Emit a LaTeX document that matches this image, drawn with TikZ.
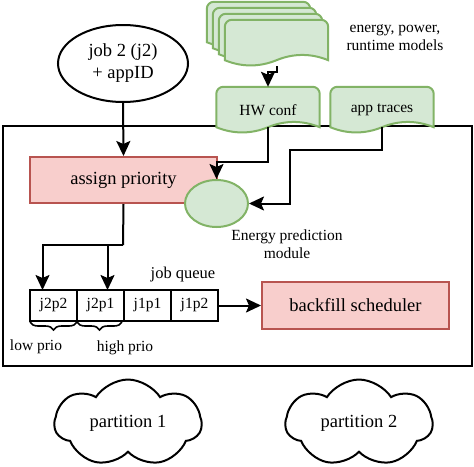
\documentclass[tikz,border=0pt]{standalone}
\usepackage{fontspec}
\setmainfont{Liberation Serif}
\usetikzlibrary{positioning,arrows.meta,shapes.geometric,shapes.symbols,decorations.pathreplacing}

\definecolor{redfill}{HTML}{F8CECC}
\definecolor{redline}{HTML}{B85450}
\definecolor{greenfill}{HTML}{D5E8D4}
\definecolor{greenline}{HTML}{82B366}

\tikzset{
  bigtext/.style={font=\fontsize{18.5}{22}\selectfont},
  smalltext/.style={font=\fontsize{15.5}{18}\selectfont},
  arr/.style={line width=2pt, arrows={-Stealth[length=15pt,width=14pt,inset=3pt]}},
  redbox/.style={draw=redline, fill=redfill, line width=2pt, minimum width=187pt, bigtext},
  doc/.style={minimum width=103pt, minimum height=40pt, inner sep=0pt, smalltext},
  docline/.style={draw=greenline, fill=greenfill, line width=2pt},
  cell/.style={draw, line width=2pt, minimum width=47pt, minimum height=31pt, inner sep=0pt, outer sep=0pt, smalltext},
  partition/.style={draw, cloud, cloud puffs=7, cloud puff arc=115, aspect=1.8, minimum width=147pt, minimum height=80pt, line width=2pt, bigtext},
  prio/.style={decorate, decoration={brace, mirror, amplitude=8pt}, line width=1.6pt}
}

\newcommand\docshape[1]{%
  \path[docline] (#1.south west) [rounded corners=7pt] -- (#1.north west) -- (#1.north east) [sharp corners]
    -- (#1.south east) .. controls ([xshift=-17pt,yshift=7pt]#1.south east) and ([xshift=17pt,yshift=7pt]#1.south) .. (#1.south)
    .. controls ([xshift=-17pt,yshift=-7pt]#1.south) and ([xshift=17pt,yshift=-7pt]#1.south west) .. (#1.south west) -- cycle;}

\begin{document}
\begin{tikzpicture}[x=1pt, y=-1pt]
  \useasboundingbox (0,0) rectangle (474,466);

  \draw[line width=2.4pt] (3,126) rectangle (472,366);

  \node[doc] (mod4) at (258.5,22) {};
  \node[doc] (mod3) at (264.5,28) {};
  \node[doc] (mod2) at (270.5,34) {};
  \node[doc] (mod1) at (276.5,40) {};
  \docshape{mod4}
  \docshape{mod3}
  \docshape{mod2}
  \docshape{mod1}
  \node[smalltext, align=center] (modlabel) at (395,38) {energy, power,\\runtime models};

  \node[doc] (hw) at (268,107) {};
  \docshape{hw}
  \node[smalltext] at ([yshift=-3pt]hw.center) {HW conf};
  \node[doc] (app) at (382,107) {};
  \docshape{app}
  \node[smalltext] at ([yshift=-3pt]app.center) {app traces};

  \node[draw, ellipse, line width=2pt, minimum width=130pt, minimum height=77pt, align=center, bigtext] (job) at (123,63.5) {job 2 (j2)\\+ appID};
  \node[redbox, minimum height=46pt] (assign) at (123.5,180) {assign priority};
  \node[draw=greenline, fill=greenfill, ellipse, line width=2pt, minimum width=63pt, minimum height=47pt] (epm) at (216.5,203.5) {};
  \node[smalltext, align=center] (epmlabel) at (287,244) {Energy prediction\\module};

  \node[cell] (q1) at (53.5,305.5) {j2p2};
  \node[cell, right=0pt of q1] (q2) {j2p1};
  \node[cell, right=0pt of q2] (q3) {j1p1};
  \node[cell, right=0pt of q3] (q4) {j1p2};
  \node[smalltext, font=\fontsize{16.5}{19}\selectfont] (queuelabel) at (183,275) {job queue};
  \node[redbox, minimum height=47pt] (bf) at (355.5,305.5) {backfill scheduler};

  \draw[prio] ([yshift=-1pt]q1.south west) -- ([yshift=-1pt]q1.south east);
  \draw[prio] ([yshift=-1pt]q2.south west) -- ([xshift=-2pt,yshift=-1pt]q2.south east);
  \node[smalltext] (low) at (36,347) {low prio};
  \node[smalltext] (high) at (125,348) {high prio};

  \node[partition] (p1) at (128,423) {partition 1};
  \node[partition] (p2) at (359,423) {partition 2};

  \coordinate (m1) at (277,66);
  \coordinate (split) at (123,245);
  \coordinate (turn) at (290,150);
  \draw[arr] (m1) -- ++(0,6) -| (hw.north);
  \draw[arr] (job.south) -- (assign.north);
  \draw[arr] (hw.south) |- ([yshift=17pt]epm.north) -- (epm.north);
  \draw[arr] (app.south) |- (turn) |- (epm.east);
  \draw[line width=2pt] (assign.south) -- (split);
  \draw[arr] (split) -| ([xshift=-11pt]q1.north);
  \draw[arr] ([xshift=7pt]q2.north |- split) -- ([xshift=7pt]q2.north);
  \draw[arr] (q4.east) -- (bf.west);
\end{tikzpicture}
\end{document}
